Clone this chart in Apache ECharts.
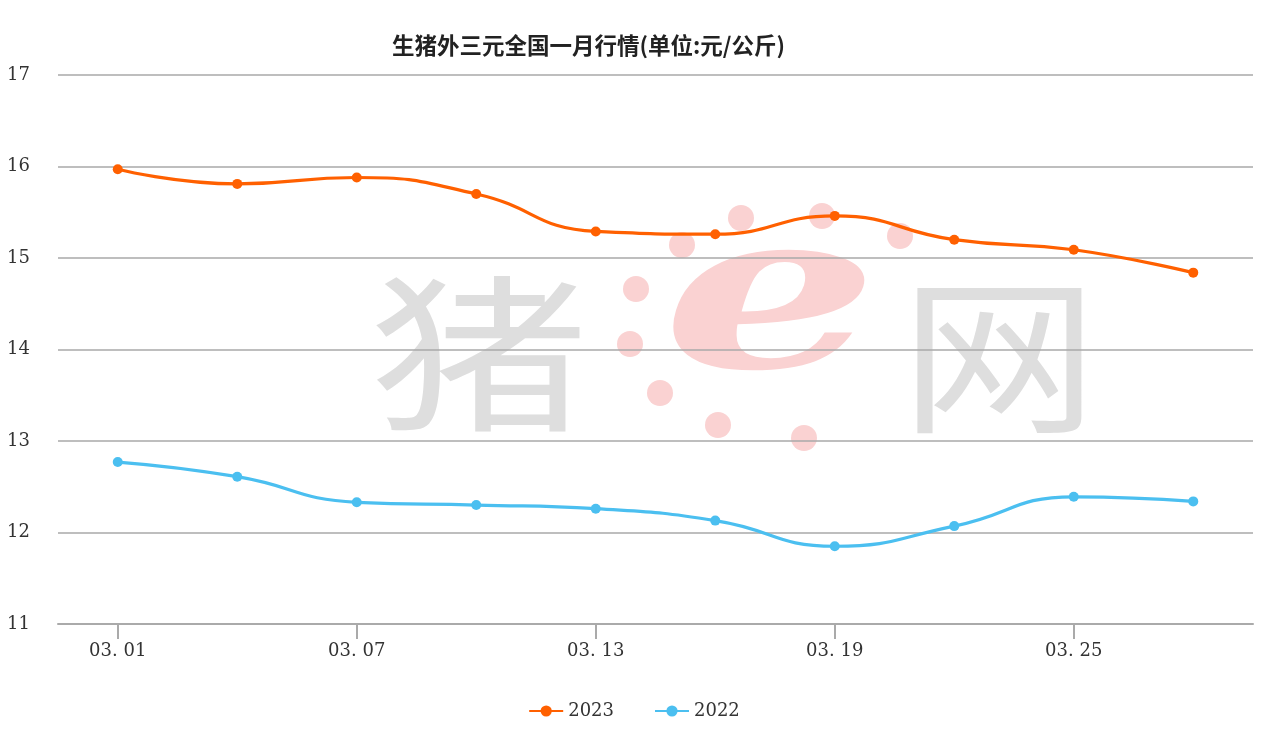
<!DOCTYPE html>
<html><head><meta charset="utf-8">
<script src="https://cdn.jsdelivr.net/npm/echarts@6/dist/echarts.min.js"></script>
<style>html,body{margin:0;padding:0;background:#fff}#c{width:1268px;height:739px}</style>
</head><body><div id="c"></div>
<script>
const categories = ['03.01','03.04','03.07','03.10','03.13','03.16','03.19','03.22','03.25','03.28'];
const s2023 = [15.97, 15.81, 15.88, 15.70, 15.29, 15.26, 15.46, 15.20, 15.09, 14.84];
const s2022 = [12.77, 12.61, 12.33, 12.30, 12.26, 12.13, 11.85, 12.07, 12.39, 12.34];
const seriesNames = ['2023', '2022'];
const titleText = '生猪外三元全国一月行情(单位:元/公斤)';
const yTicks = {min: 11, max: 17, interval: 1};

const serif = '"DejaVu Serif", "Liberation Serif", serif';
const dots = [[741,218],[822,216],[900,236],[682,245],[636,289],[630,344],[660,393],[718,425],[804,438]];
const graphics = [
  {type:'text', x:370, y:270, scaleX:1.3, z:-1, style:{text:'猪', font:'normal 168px "Noto Sans CJK SC"', fill:'#dedede'}},
  {type:'text', x:900, y:272, scaleX:1.18, z:-1, style:{text:'网', font:'normal 168px "Noto Sans CJK SC"', fill:'#dedede'}},
  {type:'text', x:662, y:200, scaleX:1.55, z:-1, style:{text:'e', font:'italic bold 220px "DejaVu Serif"', fill:'#fad2d2'}}
];
dots.forEach(d => graphics.push({type:'circle', z:-1, shape:{cx:d[0], cy:d[1], r:13}, style:{fill:'#fad2d2'}}));

const chart = echarts.init(document.getElementById('c'));
chart.setOption({
  backgroundColor:'#fff',
  animation:false,
  graphic: graphics,
  title:{text:titleText, left:387, top:29, textStyle:{fontFamily:'"Noto Sans CJK SC"', fontSize:22.5, fontWeight:'bold', color:'#222'}},
  grid:{left:58, right:15, top:75, bottom:115, containLabel:false, outerBoundsMode:'none'},
  legend:{bottom:14, left:'center', itemWidth:34, itemHeight:14, itemGap:40,
    textStyle:{fontFamily:serif, fontSize:18, color:'#333'}, data:seriesNames},
  xAxis:{type:'category', data:categories, boundaryGap:true,
    axisLine:{show:true, lineStyle:{color:'#aaa', width:2}},
    axisTick:{show:true, alignWithLabel:true, interval:1, length:15, lineStyle:{color:'#aaa', width:2}},
    axisLabel:{interval:1, margin:18, fontFamily:serif, fontSize:18, color:'#333', formatter:v=>v.replace('.', '. ')}},
  yAxis:{type:'value', min:yTicks.min, max:yTicks.max, interval:yTicks.interval,
    axisLine:{show:false}, axisTick:{show:false},
    axisLabel:{margin:28, fontFamily:serif, fontSize:18, color:'#333'},
    splitLine:{lineStyle:{color:'#a8a8a8', width:1.5}}},
  series:[
    {name:seriesNames[0], type:'line', smooth:true, data:s2023, symbol:'circle', symbolSize:10,
     itemStyle:{color:'#ff6000'}, lineStyle:{width:3.2, color:'#ff6000'}},
    {name:seriesNames[1], type:'line', smooth:true, data:s2022, symbol:'circle', symbolSize:10,
     itemStyle:{color:'#4bbff0'}, lineStyle:{width:3.2, color:'#4bbff0'}}
  ]
});
</script></body></html>
